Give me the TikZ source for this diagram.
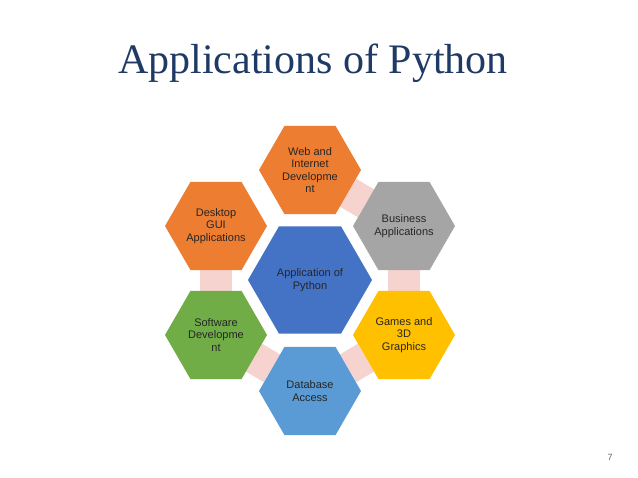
\documentclass[tikz,border=0pt]{standalone}
\usepackage{fontspec}
\setmainfont{Liberation Sans}
\newfontfamily\titlefont{Liberation Serif}
\usetikzlibrary{calc}
\definecolor{ttl}{HTML}{1F3A64}
\definecolor{org}{HTML}{ED7D31}
\definecolor{gry}{HTML}{A5A5A5}
\definecolor{yel}{HTML}{FFC000}
\definecolor{blu}{HTML}{4472C4}
\definecolor{lbl}{HTML}{5B9BD5}
\definecolor{grn}{HTML}{70AD47}
\definecolor{pnk}{HTML}{F6D3CE}
\newcommand{\hexat}[3]{\fill[#3] ($(#1)+(0:#2)$)--($(#1)+(60:#2)$)--($(#1)+(120:#2)$)--($(#1)+(180:#2)$)--($(#1)+(240:#2)$)--($(#1)+(300:#2)$)--cycle;}
\newcommand{\linkhex}[3]{\fill[pnk] ($(#1)+(#3-20:47)$)--($(#1)+(#3+20:47)$)--($(#2)+(#3+160:47)$)--($(#2)+(#3+200:47)$)--cycle;}
\begin{document}
\begin{tikzpicture}[x=1pt,y=-1pt,
  lab/.style={align=center,font=\fontsize{11}{12.5}\selectfont,text=black!85}]
\useasboundingbox (0,0) rectangle (638,478);
\fill[white] (0,0) rectangle (638,478);
\node[font=\titlefont\fontsize{42}{46}\selectfont,text=ttl] (title) at (313,63) {Applications of Python};
\coordinate (W) at (310,170);
\coordinate (B) at (404,226);
\coordinate (G) at (404,335);
\coordinate (D) at (310,391);
\coordinate (S) at (216,335);
\coordinate (K) at (216,226);
\coordinate (C) at (310,280);
\linkhex{W}{B}{30.8}
\linkhex{B}{G}{90}
\linkhex{G}{D}{149.2}
\linkhex{D}{S}{210.8}
\linkhex{S}{K}{270}
\hexat{W}{51}{org}
\hexat{B}{51}{gry}
\hexat{G}{51}{yel}
\hexat{D}{51}{lbl}
\hexat{S}{51}{grn}
\hexat{K}{51}{org}
\hexat{C}{62}{blu}
\node[lab] (tw) at (W) {Web and\\Internet\\Developme\\nt};
\node[lab] (tb) at (B) {Business\\Applications};
\node[lab] (tg) at (G) {Games and\\3D\\Graphics};
\node[lab] (td) at (D) {Database\\Access};
\node[lab] (ts) at (S) {Software\\Developme\\nt};
\node[lab] (tk) at (K) {Desktop\\GUI\\Applications};
\node[lab] (tc) at (C) {Application of\\Python};
\node[font=\fontsize{9}{10}\selectfont,text=black!60] (pg) at (610,457) {7};
\end{tikzpicture}
\end{document}
